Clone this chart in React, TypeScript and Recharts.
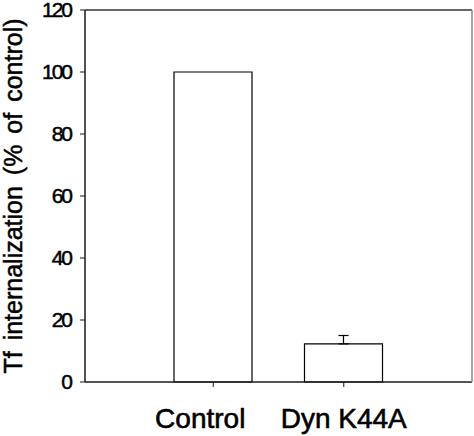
import { BarChart, Bar, XAxis, YAxis, ErrorBar } from 'recharts'

const categories = ['Control', 'Dyn K44A']
const internalization = [100, 12.3]
const upperError = [null, 2.7]
const yTicks = [0, 20, 40, 60, 80, 100, 120]

const data = categories.map((name, i) => ({
  name,
  value: internalization[i],
  err: upperError[i] == null ? undefined : [0, upperError[i]],
}))

const FONT = '"Liberation Sans", Arial, sans-serif'
const AXIS = '#1a1a1a'

function CategoryTick({ x, y, payload, index }: any) {
  // the first label sits a little left of its tick in the original
  const shift = index === 0 ? -13 : 0
  return (
    <text
      x={x + shift}
      y={y}
      dy="0.71em"
      textAnchor="middle"
      fontFamily={FONT}
      fontSize={28}
      fill="#000"
      stroke="#000"
      strokeWidth={0.6}
    >
      {payload.value}
    </text>
  )
}

export default function App() {
  return (
    <div style={{ position: 'absolute', left: 0, top: 0, background: '#fff' }}>
      <BarChart
        width={474}
        height={436}
        data={data}
        margin={{ top: 9, right: 1, left: 0, bottom: 0 }}
        barSize={78}
      >
        <XAxis
          dataKey="name"
          height={54}
          padding={{ left: 63, right: 63 }}
          axisLine={{ stroke: AXIS, strokeWidth: 1.5 }}
          tickLine={{ stroke: AXIS }}
          tickSize={5}
          tickMargin={21}
          tick={<CategoryTick />}
        />
        <XAxis
          xAxisId="top"
          dataKey="name"
          orientation="top"
          height={1}
          tick={false}
          tickLine={false}
          axisLine={{ stroke: '#333', strokeWidth: 1.5 }}
        />
        <YAxis
          width={85}
          domain={[0, 120]}
          ticks={yTicks}
          interval={0}
          axisLine={{ stroke: AXIS, strokeWidth: 1.5 }}
          tickLine={{ stroke: AXIS }}
          tickSize={5}
          tickMargin={9}
          tick={{ fill: '#000', stroke: '#000', strokeWidth: 0.5, fontSize: 21, fontFamily: FONT, letterSpacing: -2 }}
          label={{
            value: 'Tf internalization (% of control)',
            angle: -90,
            position: 'insideLeft',
            offset: 13,
            style: {
              textAnchor: 'middle',
              fill: '#000',
              stroke: '#000',
              strokeWidth: 0.5,
              fontSize: 25,
              fontFamily: FONT,
              wordSpacing: 4,
            },
          }}
        />
        <YAxis
          yAxisId="right"
          orientation="right"
          width={1}
          domain={[0, 120]}
          tick={false}
          tickLine={false}
          axisLine={{ stroke: '#888', strokeWidth: 1.5 }}
        />
        <Bar dataKey="value" fill="#fff" stroke="#000" strokeWidth={1.2} isAnimationActive={false}>
          <ErrorBar dataKey="err" direction="y" width={5} stroke="#000" strokeWidth={1.2} />
        </Bar>
      </BarChart>
    </div>
  )
}
